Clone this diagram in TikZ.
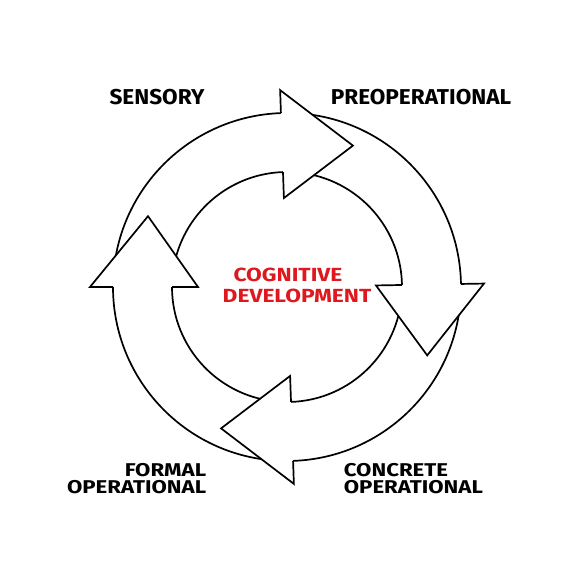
\documentclass[tikz,border=0pt]{standalone}
\usepackage{fontspec}
\setmainfont{Fira Sans}
\newfontfamily\toplblfont{Fira Sans}[FakeStretch=1.05]
\newfontfamily\widelblfont{Fira Sans}[FakeStretch=1.2]
\definecolor{cogred}{RGB}{222,24,30}
\begin{document}
\begin{tikzpicture}[x=1pt,y=1pt,line width=1.7pt,line join=miter,
  toplbl/.style={font=\toplblfont\bfseries\fontsize{21.5}{22}\selectfont,inner sep=0pt},
  botlbl/.style={font=\widelblfont\bfseries\fontsize{18.5}{17}\selectfont,inner sep=0pt},
  midlbl/.style={font=\widelblfont\bfseries\fontsize{19}{20}\selectfont,inner sep=0pt,text=cogred}]
\useasboundingbox (0,0) rectangle (576,576);
\fill[white] (0,0) rectangle (576,576);
\begin{scope}[shift={(287,289)}]
  % bodies of the four ring arrows
  \foreach \t/\b in {175/92, 87/1, -3/-88, -93/-180}{
    \fill[white] (\t:174) arc[start angle=\t,end angle=\b,radius=174]
      -- (\b:115) arc[start angle=\b,end angle=\t,radius=115] -- cycle;
    \draw (\t:174) arc[start angle=\t,end angle=\b,radius=174];
    \draw (\b:115) arc[start angle=\b,end angle=\t,radius=115];
  }
  % heads
  \foreach \b in {92,1,-88,-180}{
    \fill[white] (\b:174) -- (\b:197) -- ({\b-27}:156) -- (\b:89) -- (\b:115) -- cycle;
    \draw (\b:174) -- (\b:197) -- ({\b-27}:156) -- (\b:89) -- (\b:115);
  }
\end{scope}
\node[toplbl,anchor=base] (sens) at (157,471) {SENSORY};
\node[toplbl,anchor=base] (preop) at (421,471) {PREOPERATIONAL};
\node[midlbl,anchor=base] (cog) at (288,294) {COGNITIVE};
\node[midlbl,anchor=base] (dev) at (297,273) {DEVELOPMENT};
\node[botlbl,align=right,anchor=north east] (formal) at (207,113.5) {FORMAL\\OPERATIONAL};
\node[botlbl,align=left,anchor=north west] (concrete) at (343,113.5) {CONCRETE\\OPERATIONAL};
\end{tikzpicture}
\end{document}
